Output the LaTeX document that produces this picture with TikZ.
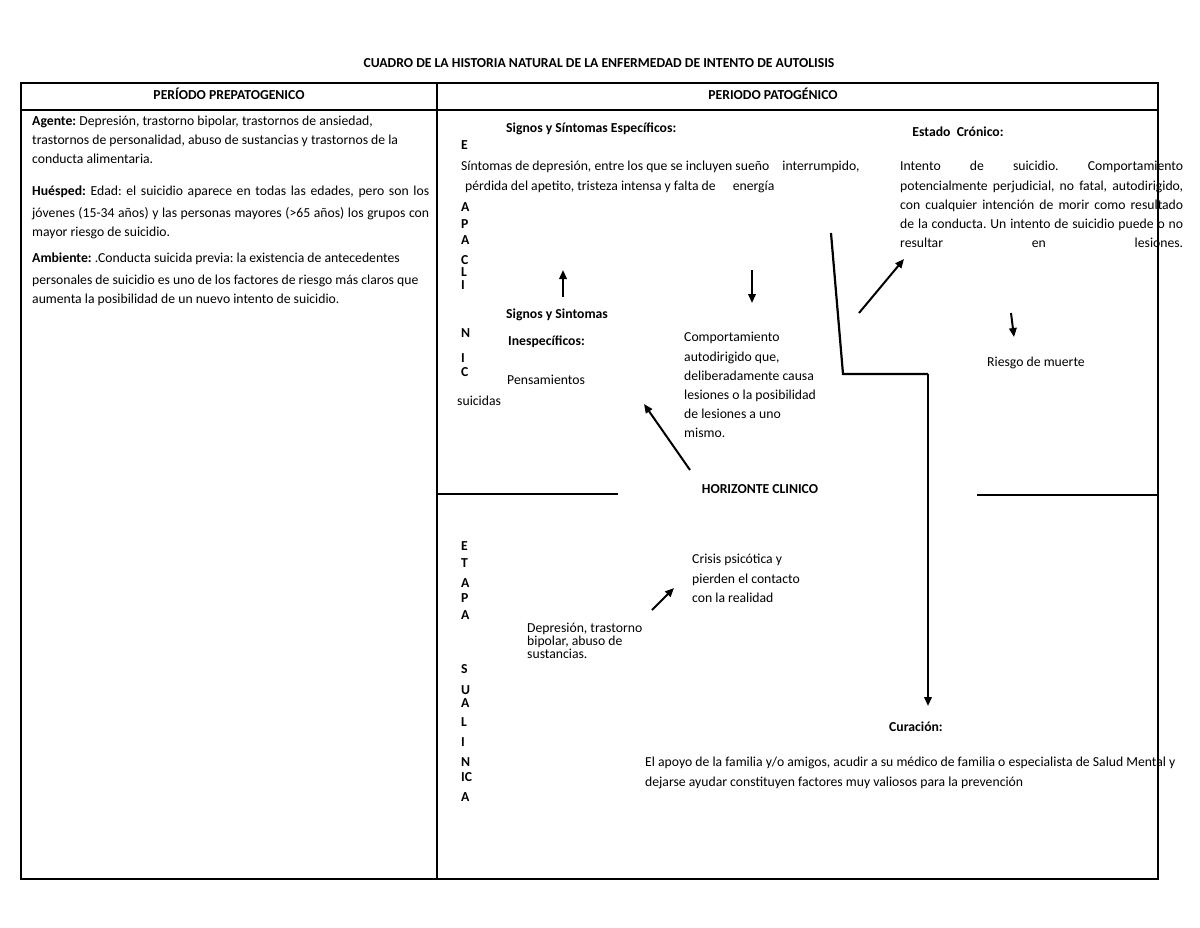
\documentclass[tikz,border=0pt]{standalone}
\usepackage{fontspec}
\setmainfont{Carlito}
\usetikzlibrary{arrows.meta}
\newcommand{\fs}{\fontsize{13.7}{19}\selectfont}
\newcommand{\jl}[2]{\makebox[#1pt][s]{#2}}
\frenchspacing
\begin{document}
\begin{tikzpicture}[x=1pt,y=-1pt,
  txt/.style={font=\fs, anchor=base west, inner sep=0pt},
  btxt/.style={font=\fs\bfseries, anchor=base west, inner sep=0pt},
  ctxt/.style={font=\fs\bfseries, anchor=base, inner sep=0pt},
  frame/.style={line width=1.8pt},
  bline/.style={line width=2.2pt},
  arr/.style={line width=2pt, -{Triangle[length=9pt,width=7.5pt]}},
  ]
\useasboundingbox (0,0) rectangle (1200,927);
\fill[white] (0,0) rectangle (1200,927);
% table
\draw[frame] (21,83) rectangle (1158,879);
\draw[frame] (21,110) -- (1158,110);
\draw[frame] (437,83) -- (437,879);
% title and headers
\node[ctxt] (title) at (599,67) {CUADRO DE LA HISTORIA NATURAL DE LA ENFERMEDAD DE INTENTO DE AUTOLISIS};
\node[ctxt] (hpre) at (229,99) {PERÍODO PREPATOGENICO};
\node[ctxt] (hpat) at (773,99) {PERIODO PATOGÉNICO};
% left column
\node[txt] (ag1) at (32,125) {\textbf{Agente:} Depresión, trastorno bipolar, trastornos de ansiedad,};
\node[txt] (ag2) at (32,144) {trastornos de personalidad, abuso de sustancias y trastornos de la};
\node[txt] (ag3) at (32,163) {conducta alimentaria.};
\node[txt] (hu1) at (32,195) {\jl{397}{\textbf{Huésped:} Edad: el suicidio aparece en todas las edades, pero son los}};
\node[txt] (hu2) at (32,217) {\jl{397}{jóvenes (15-34 años) y las personas mayores (>65 años) los grupos con}};
\node[txt] (hu3) at (32,236) {mayor riesgo de suicidio.};
\node[txt] (am1) at (32,262) {\textbf{Ambiente:} .Conducta suicida previa: la existencia de antecedentes};
\node[txt] (am2) at (32,284) {personales de suicidio es uno de los factores de riesgo más claros que};
\node[txt] (am3) at (32,303) {aumenta la posibilidad de un nuevo intento de suicidio.};
% pathogenic: upper part
\node[btxt] (sse) at (506,132) {Signos y Síntomas Específicos:};
\node[btxt] (e1) at (461,149) {E};
\node[txt] (sd1) at (461,170) {Síntomas de depresión, entre los que se incluyen sueño\hspace{10pt} interrumpido,};
\node[txt] (sd2) at (465,190) {pérdida del apetito, tristeza intensa y falta de\hspace{14pt} energía};
\node[btxt] (l1) at (461,211) {A};
\node[btxt] (l2) at (461,228) {P};
\node[btxt] (l3) at (461,244) {A};
\node[btxt] (l4) at (461,264) {C};
\node[btxt] (l5) at (461,276) {L};
\node[btxt] (l6) at (461,289) {I};
\node[btxt] (l7) at (461,337) {N};
\node[btxt] (l8) at (461,362) {I};
\node[btxt] (l9) at (461,376) {C};
\node[btxt] (ssi1) at (506,318) {Signos y Sintomas};
\node[btxt] (ssi2) at (508,345) {Inespecíficos:};
\node[txt] (pen1) at (507,384) {Pensamientos};
\node[txt] (pen2) at (457,405) {suicidas};
\node[txt] (co1) at (684,341) {Comportamiento};
\node[txt] (co2) at (684,361) {autodirigido que,};
\node[txt] (co3) at (684,380) {deliberadamente causa};
\node[txt] (co4) at (684,399) {lesiones o la posibilidad};
\node[txt] (co5) at (684,418) {de lesiones a uno};
\node[txt] (co6) at (684,437) {mismo.};
\node[ctxt] (hor) at (760,493) {HORIZONTE CLINICO};
% chronic state
\node[ctxt] (ec) at (958,136) {Estado\ \ Crónico:};
\node[txt] (ec1) at (900,170) {\jl{283}{Intento de suicidio. Comportamiento}};
\node[txt] (ec2) at (900,190) {\jl{283}{potencialmente perjudicial, no fatal, autodirigido,}};
\node[txt] (ec3) at (900,209) {\jl{283}{con cualquier intención de morir como resultado}};
\node[txt] (ec4) at (900,228) {\jl{283}{de la conducta. Un intento de suicidio puede o no}};
\node[txt] (ec5) at (900,247) {\jl{283}{resultar en lesiones.}};
\node[txt, anchor=base] (rm) at (1036,366) {Riesgo de muerte};
% lower part
\node[btxt] (m1) at (461,550) {E};
\node[btxt] (m2) at (461,567) {T};
\node[btxt] (m3) at (461,587) {A};
\node[btxt] (m4) at (461,602) {P};
\node[btxt] (m5) at (461,619) {A};
\node[btxt] (m6) at (461,673) {S};
\node[btxt] (m7) at (461,694) {U};
\node[btxt] (m8) at (461,707) {A};
\node[btxt] (m9) at (461,726) {L};
\node[btxt] (m10) at (461,746) {I};
\node[btxt] (m11) at (461,766) {N};
\node[btxt] (m12) at (461,781) {IC};
\node[btxt] (m13) at (461,801) {A};
\node[txt] (dp1) at (527,632) {Depresión, trastorno};
\node[txt] (dp2) at (527,645) {bipolar, abuso de};
\node[txt] (dp3) at (527,658) {sustancias.};
\node[txt] (cr1) at (692,563) {Crisis psicótica y};
\node[txt] (cr2) at (692,583) {pierden el contacto};
\node[txt] (cr3) at (692,602) {con la realidad};
\node[btxt] (cu) at (889,731) {Curación:};
\node[txt] (ap1) at (645,766) {El apoyo de la familia y/o amigos, acudir a su médico de familia o especialista de Salud Mental y};
\node[txt] (ap2) at (645,786) {dejarse ayudar constituyen factores muy valiosos para la prevención};
% coordinates for connectors
\coordinate (u1) at (563,297); \coordinate (u2) at (563,270);
\coordinate (d1) at (752,270); \coordinate (d2) at (752,303);
\coordinate (p1) at (831,233); \coordinate (p2) at (843,374);
\coordinate (p3) at (928,374); \coordinate (p4) at (928,706);
\coordinate (ne1) at (859,313); \coordinate (ne2) at (904,259);
\coordinate (s1) at (1011,313); \coordinate (s2) at (1014,337);
\coordinate (nw1) at (690,470); \coordinate (nw2) at (644,404);
\coordinate (b1) at (652,610); \coordinate (b2) at (674,588);
\coordinate (h1) at (437,494); \coordinate (h2) at (618,494);
\coordinate (h3) at (977,495); \coordinate (h4) at (1158,495);
% connectors
\draw[arr] (u1) -- (u2);
\draw[arr] (d1) -- (d2);
\draw[bline] (p1) -- (p2) -- (p3);
\draw[arr] (p3) -- (p4);
\draw[arr] (ne1) -- (ne2);
\draw[arr] (s1) -- (s2);
\draw[arr] (nw1) -- (nw2);
\draw[arr] (b1) -- (b2);
\draw[line width=1.6pt] (h1) -- (h2);
\draw[line width=2.6pt] (506,494) -- (558,494);
\draw[line width=1.6pt] (h3) -- (h4);
\draw[line width=2.6pt] (977,495) -- (1005,495);
\draw[line width=2.6pt] (1090,495) -- (1143,495);
\end{tikzpicture}
\end{document}
